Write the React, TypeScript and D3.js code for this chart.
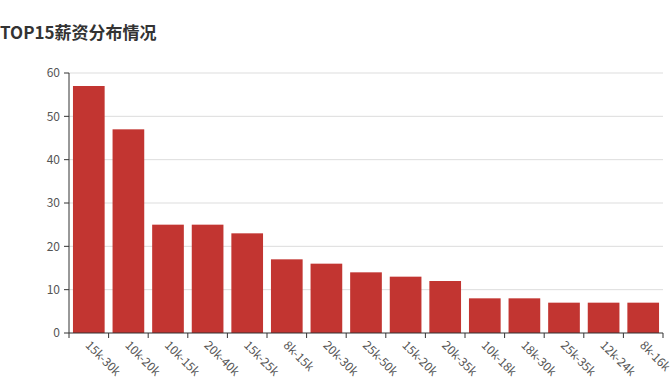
import React from "react";
import * as d3 from "d3";

const categories = ["15k-30k","10k-20k","10k-15k","20k-40k","15k-25k","8k-15k","20k-30k","25k-50k","15k-20k","20k-35k","10k-18k","18k-30k","25k-35k","12k-24k","8k-16k"];
const values = [57,47,25,25,23,17,16,14,13,12,8,8,7,7,7];
const yTicks = [0,10,20,30,40,50,60];
const title = "TOP15薪资分布情况";

export default function App() {
  const W = 672, H = 392;
  const left = 69, right = 663, top = 73, bottom = 333;
  const x = d3.scaleBand<string>().domain(categories).range([left, right]).paddingInner(0.2).paddingOuter(0.1);
  const xb = d3.scaleBand<string>().domain(categories).range([left, right]);
  const y = d3.scaleLinear().domain([0, 60]).range([bottom, top]);
  const font = "'Noto Sans CJK SC', 'Noto Sans', sans-serif";
  return (
    <svg width={W} height={H} style={{ position: "absolute", left: 0, top: 0, background: "#fff" }} fontFamily={font}>
      <text x={0} y={39} fontSize={17} fontWeight="bold" fill="#333">{title}</text>
      {yTicks.map(t => (
        <g key={t}>
          {t > 0 && <line x1={left} x2={right} y1={y(t)} y2={y(t)} stroke="#ddd" strokeWidth={1} />}
          <line x1={left - 5} x2={left} y1={y(t)} y2={y(t)} stroke="#333" />
          <text x={left - 9} y={y(t)} dy="0.35em" textAnchor="end" fontSize={12} fill="#555">{t}</text>
        </g>
      ))}
      {categories.map((c, i) => (
        <rect key={c} x={x(c)!} y={y(values[i])} width={x.bandwidth()} height={bottom - y(values[i])} fill="#c23531" />
      ))}
      <line x1={left} x2={left} y1={top} y2={bottom} stroke="#333" />
      <line x1={left} x2={right} y1={bottom} y2={bottom} stroke="#333" />
      {categories.map(c => (
        <line key={"t" + c} x1={xb(c)!} x2={xb(c)!} y1={bottom} y2={bottom + 5} stroke="#333" />
      ))}
      <line x1={right} x2={right} y1={bottom} y2={bottom + 5} stroke="#333" />
      {categories.map(c => {
        const cx = xb(c)! + xb.bandwidth() / 2;
        return (
          <text key={"l" + c} transform={`translate(${cx - 4},${bottom + 13}) rotate(45)`} fontSize={12} fill="#555">{c}</text>
        );
      })}
    </svg>
  );
}
